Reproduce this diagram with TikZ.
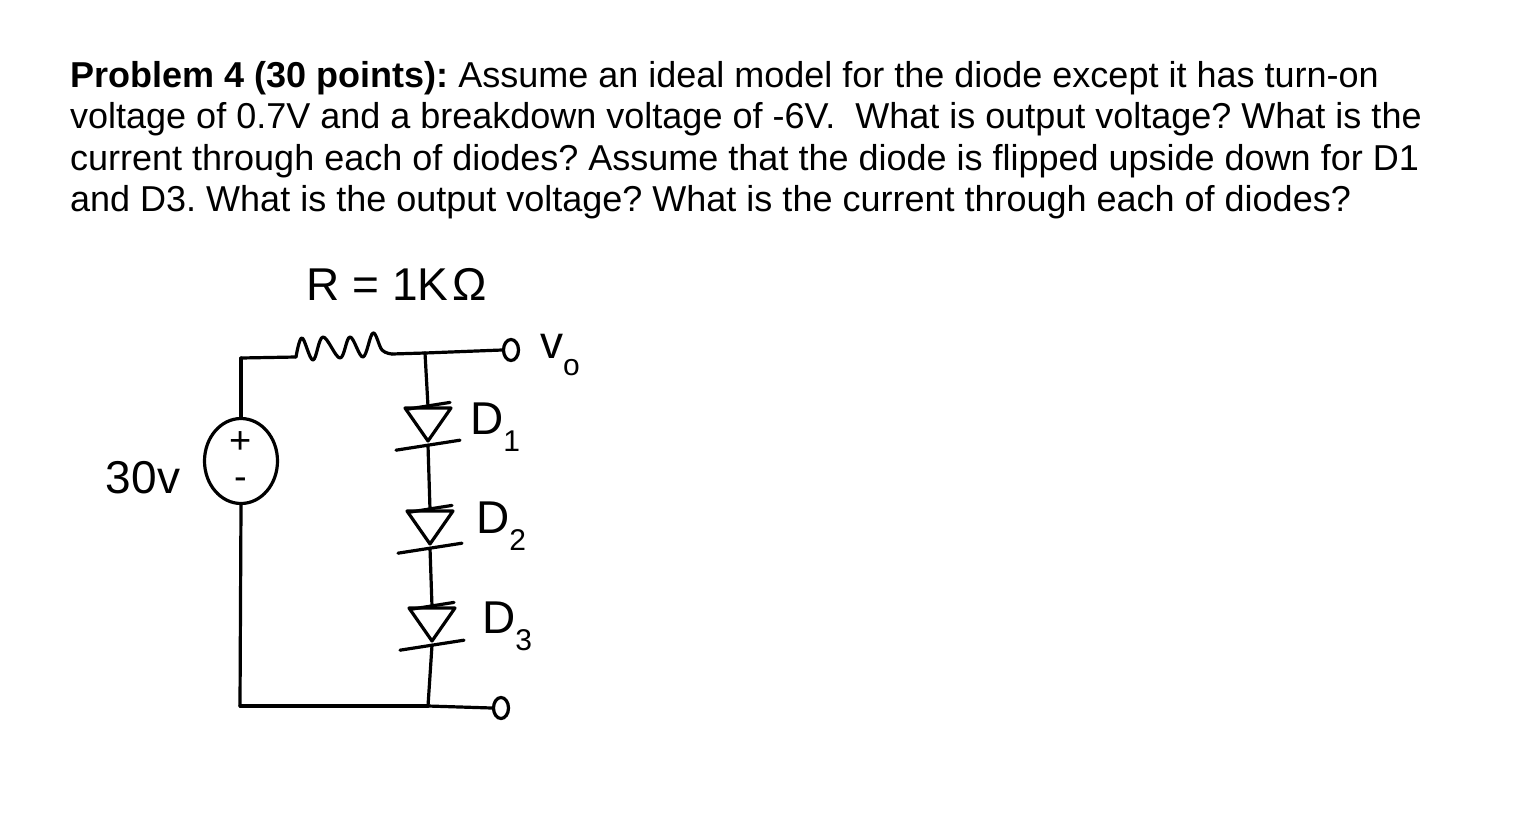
\documentclass[tikz,border=0pt]{standalone}
\usepackage{fontspec}
\setmainfont{Liberation Sans}
\usetikzlibrary{shapes.geometric}
\newcommand{\hsub}[1]{\raisebox{-.7ex}{\fontsize{30}{30}\selectfont #1}}
\frenchspacing
\tikzset{
    wire/.style={line width=3.2pt, line cap=round, line join=round},
    hand/.style={font=\fontsize{46}{46}\selectfont, inner sep=0pt},
    terminal/.style={ellipse, draw, line width=3.2pt, minimum width=15pt, minimum height=21pt, inner sep=0pt},
    source/.style={ellipse, draw, line width=3.2pt, minimum width=73pt, minimum height=85pt, inner sep=0pt,
        align=center, font=\fontsize{38}{36}\selectfont},
    diode/.style={isosceles triangle, draw, wire, shape border rotate=-90, isosceles triangle stretches,
        minimum width=46pt, minimum height=33pt, inner sep=0pt,
        append after command={
            ([shift={(-22,3)}]\tikzlastnode.lower side) edge[wire] ([shift={(22,-4)}]\tikzlastnode.lower side)
            ([shift={(-32,5)}]\tikzlastnode.apex) edge[wire] ([shift={(32,-5)}]\tikzlastnode.apex)
        }}
}
\begin{document}
\begin{tikzpicture}[x=1pt, y=-1pt]
        \useasboundingbox (0,0) rectangle (1520,828);
        \node[anchor=north west, align=left, inner sep=0pt, font=\fontsize{36}{41.5}\selectfont] (problem) at (70,61)
            {\textbf{Problem 4 (30 points):} Assume an ideal model for the diode except it has turn-on\\
            voltage of 0.7V and a breakdown voltage of -6V.\ \ What is output voltage? What is the\\
            current through each of diodes? Assume that the diode is flipped upside down for D1\\
            and D3. What is the output voltage? What is the current through each of diodes?};

        \node[hand] (rlabel) at (397,284) {R = 1K$\,$Ω};
        \node[hand] (vlabel) at (560,355) {v\hsub{o}};
        \node[hand] (vslabel) at (143,478) {30v};

        \node[source] (vs) at (241,461) {+\\-};

        \node[diode] (d1) at (428,420) {};
        \node[diode] (d2) at (430,523) {};
        \node[diode] (d3) at (432,620) {};
        \node[hand, anchor=west] (d1label) at (470,427) {D\hsub{1}};
        \node[hand, anchor=west] (d2label) at (476,526) {D\hsub{2}};
        \node[hand, anchor=west] (d3label) at (482,626) {D\hsub{3}};

        \node[terminal] (vout) at (511,350) {};
        \node[terminal] (gnd) at (501,708) {};

        \coordinate (corner1) at (241,358);
        \coordinate (rleft) at (296,357);
        \coordinate (rright) at (392,354);
        \coordinate (top) at (425,353);
        \coordinate (corner2) at (240,706);
        \coordinate (bottom) at (428,706);

        \draw[wire] plot[smooth, tension=0.6] coordinates {(rleft) (302,338) (313,360) (323,337) (340,358) (350,337) (363,357) (373,333) (382,350) (rright)};
        \path[wire]
        (vs.north) edge (corner1)
        (corner1) edge (rleft)
        (rright) edge (top)
        (top) edge (vout.west)
        (top) edge (d1.lower side)
        (d1.apex) edge (d2.lower side)
        (d2.apex) edge (d3.lower side)
        (d3.apex) edge (bottom)
        (vs.south) edge (corner2)
        (corner2) edge (bottom)
        (bottom) edge (gnd.west)
        ;
    \end{tikzpicture}
\end{document}
